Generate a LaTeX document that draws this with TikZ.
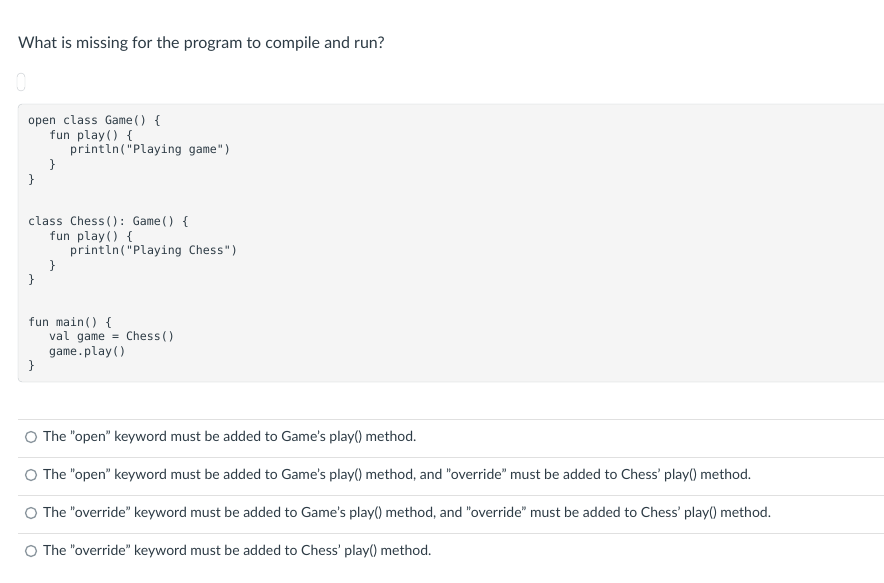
\documentclass[tikz,border=0pt]{standalone}
\usepackage{fontspec}
\setmainfont{Lato}
\setmonofont{DejaVu Sans Mono}
\definecolor{txt}{HTML}{2D3B45}
\definecolor{codebg}{HTML}{F5F5F5}
\definecolor{codebd}{HTML}{C2C8CC}
\definecolor{sep}{HTML}{E0E0E0}
\definecolor{radio}{HTML}{8B969E}
\begin{document}
\begin{tikzpicture}[x=1pt,y=-1pt,
  code/.style={anchor=west,inner sep=0pt,font=\ttfamily\fontsize{11.6}{13}\selectfont,text=txt},
  ans/.style={anchor=west,inner sep=0pt,font=\fontsize{14}{16}\selectfont,text=txt},
  radiobtn/.style={circle,draw=radio,line width=1.3pt,minimum size=11pt,inner sep=0pt}]
\useasboundingbox (0,0) rectangle (884,582);
\node[anchor=west,inner sep=0pt,font=\fontsize{16}{19}\selectfont,text=txt] (title) at (18,44) {What is missing for the program to compile and run?};
\draw[codebd,fill=white,rounded corners=4pt] (17,73) rectangle (25,91);
\draw[codebd,fill=codebg,rounded corners=4pt] (18,104) rectangle (890,382);
\foreach \y/\x/\t in {121/28/{open class Game() \{},136/49/{fun play() \{},150/70/{println("Playing game")},165/49/{\}},180/28/{\}},
222/28/{class Chess(): Game() \{},237/49/{fun play() \{},251/70/{println("Playing Chess")},266/49/{\}},280/28/{\}},
323/28/{fun main() \{},337/49/{val game = Chess()},352/49/{game.play()},366/28/{\}}}
  \node[code] at (\x,\y) {\t};
\foreach \y in {419,457,495,533} \draw[sep,line width=0.8pt] (18,\y) -- (884,\y);
\foreach \y/\t/\n in {437/{The "open" keyword must be added to Game's play() method.}/a,
475/{The "open" keyword must be added to Game's play() method, and "override" must be added to Chess' play() method.}/b,
513/{The "override" keyword must be added to Game's play() method, and "override" must be added to Chess' play() method.}/c,
551/{The "override" keyword must be added to Chess' play() method.}/d}{
  \node[radiobtn] (r\n) at (31,\y) {};
  \node[ans] (t\n) at (43,\y) {\t};
}
\end{tikzpicture}
\end{document}
